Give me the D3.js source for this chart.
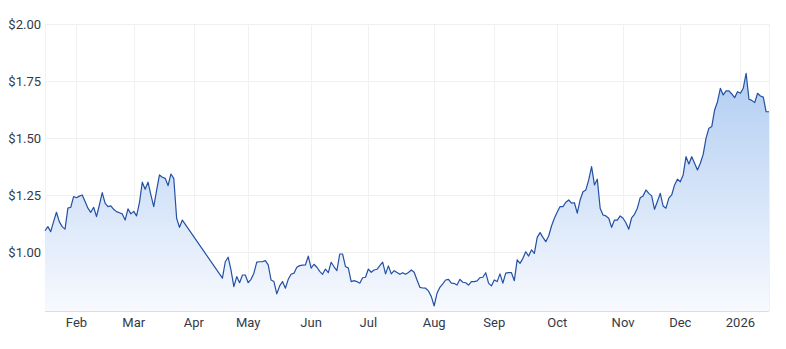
<!DOCTYPE html>
<html>
<head>
<meta charset="utf-8">
<script src="https://cdn.jsdelivr.net/npm/d3@7"></script>
<style>
    html, body { margin: 0; padding: 0; background: #fff; }
    svg { display: block; font-family: Roboto, "Liberation Sans", sans-serif; }
</style>
</head>
<body>
<svg role="chart" width="786" height="349"></svg>
<script>
// trading calendar (exchange days, holidays removed)
var firstDay = '2025-01-16',
    lastDay = '2026-01-16';
var holidays = ['2025-01-27', '2025-04-18', '2025-04-21', '2025-04-25',
    '2025-06-09', '2025-12-25', '2025-12-26', '2026-01-01'];

// closing price per trading day, null while the stock was halted
var prices = [
    1.093, 1.111, 1.089, 1.133, 1.174, 1.133, 1.111, 1.100, 1.192, 1.196, 1.243,
    1.238, 1.245, 1.250, 1.221, 1.192, 1.174, 1.196, 1.155, 1.206, 1.260,
    1.214, 1.199, 1.202, 1.187, 1.177, 1.172, 1.167, 1.140, 1.189, 1.167,
    1.178, 1.158, 1.216, 1.306, 1.275, 1.306, 1.250, 1.199, 1.270, 1.338,
    1.328, 1.323, 1.291, 1.342, 1.323, 1.148, 1.108, 1.140,
    null, null, null, null, null, null, null, null, null, null, null, null, null,
    0.885, 0.957, 0.977, 0.920, 0.848, 0.892, 0.865, 0.899, 0.899,
    0.865, 0.880, 0.907, 0.955, 0.957, 0.957, 0.962, 0.943, 0.877, 0.870,
    0.816, 0.851, 0.870, 0.841, 0.880, 0.902, 0.907, 0.933, 0.940, 0.942,
    0.943, 0.982, 0.929, 0.946, 0.933, 0.915, 0.902, 0.925, 0.909, 0.955,
    0.935, 0.918, 0.991, 0.991, 0.936, 0.929, 0.870, 0.874, 0.870, 0.863,
    0.887, 0.889, 0.925, 0.911, 0.921, 0.924, 0.940, 0.955, 0.904, 0.939,
    0.904, 0.918, 0.910, 0.902, 0.909, 0.902, 0.910, 0.921, 0.911, 0.877,
    0.845, 0.842, 0.841, 0.829, 0.804, 0.763, 0.819, 0.845, 0.860, 0.877,
    0.880, 0.863, 0.862, 0.855, 0.880, 0.867, 0.865, 0.855, 0.870, 0.870,
    0.873, 0.887, 0.889, 0.909, 0.863, 0.851, 0.877, 0.870, 0.904, 0.863,
    0.907, 0.909, 0.909, 0.874, 0.965, 0.950, 0.972, 1.001, 0.982, 1.009,
    0.994, 1.064, 1.085, 1.064, 1.045, 1.070, 1.114, 1.148, 1.175, 1.199,
    1.199, 1.218, 1.228, 1.214, 1.216, 1.170, 1.228, 1.264, 1.272, 1.316,
    1.374, 1.294, 1.319, 1.192, 1.162, 1.158, 1.148, 1.108, 1.140, 1.140,
    1.158, 1.148, 1.128, 1.100, 1.150, 1.165, 1.192, 1.238, 1.246, 1.272,
    1.257, 1.246, 1.187, 1.221, 1.257, 1.202, 1.192, 1.236, 1.250, 1.294,
    1.319, 1.308, 1.338, 1.418, 1.386, 1.418, 1.389, 1.360, 1.389, 1.428,
    1.499, 1.543, 1.550, 1.623, 1.659, 1.718, 1.689, 1.707, 1.707, 1.693,
    1.677, 1.703, 1.696, 1.718, 1.784, 1.670, 1.665, 1.655, 1.696, 1.684,
    1.679, 1.615, 1.615
];

var yTicks = [1.00, 1.25, 1.50, 1.75, 2.00];
var yMin = 0.741, yMax = 2.00;

// overall configuration
var width = 786, height = 349,
    margin = { top: 24, left: 45, right: 17, bottom: 38 };
var innerW = width - margin.left - margin.right,
    innerH = height - margin.top - margin.bottom;

var parse = d3.timeParse('%Y-%m-%d'),
    fmt = d3.timeFormat('%Y-%m-%d');

// build the list of trading days
var days = d3.timeDay.range(parse(firstDay), d3.timeDay.offset(parse(lastDay), 1))
    .filter(function (d) {
        var wd = d.getDay();
        return wd != 0 && wd != 6 && holidays.indexOf(fmt(d)) == -1;
    });

var series = [];
days.forEach(function (d, i) {
    if (prices[i] != null) {
        series.push({ i: i, date: d, value: prices[i] });
    }
});

// month ticks sit on the first trading day of each month
var monthTicks = [];
days.forEach(function (d, i) {
    if (i > 0 && d.getMonth() != days[i - 1].getMonth()) {
        monthTicks.push({ i: i, date: d });
    }
});

var x = d3.scaleLinear().domain([0, days.length - 1]).range([0, innerW]);
var y = d3.scaleLinear().domain([yMin, yMax]).range([innerH, 0]);

var svg = d3.select('[role="chart"]');

var defs = svg.append('defs');
var grad = defs.append('linearGradient')
    .attr('id', 'fill')
    .attr('gradientUnits', 'userSpaceOnUse')
    .attr('x1', 0).attr('y1', 0)
    .attr('x2', 0).attr('y2', innerH);
grad.append('stop').attr('offset', 0).attr('stop-color', 'rgb(164,197,240)');
grad.append('stop').attr('offset', 1).attr('stop-color', 'rgb(247,249,254)');

var g = svg.append('g')
    .attr('transform', 'translate(' + margin.left + ',' + margin.top + ')');

// horizontal grid
g.selectAll('line.hgrid')
    .data(yTicks)
    .enter()
    .append('line')
    .attr('class', 'hgrid')
    .attr('x1', 0).attr('x2', innerW)
    .attr('y1', function (d) { return Math.round(y(d)) + 0.5; })
    .attr('y2', function (d) { return Math.round(y(d)) + 0.5; })
    .attr('stroke', '#efefef');

// vertical grid (month ticks + plot edges)
var vLines = [0, days.length - 1].concat(monthTicks.map(function (t) { return t.i; }));
g.selectAll('line.vgrid')
    .data(vLines)
    .enter()
    .append('line')
    .attr('class', 'vgrid')
    .attr('y1', 0).attr('y2', innerH)
    .attr('x1', function (d) { return Math.round(x(d)) + 0.5; })
    .attr('x2', function (d) { return Math.round(x(d)) + 0.5; })
    .attr('stroke', '#f1f1f1');

// area + line
var area = d3.area()
    .x(function (d) { return x(d.i); })
    .y0(innerH)
    .y1(function (d) { return y(d.value); });

var line = d3.line()
    .x(function (d) { return x(d.i); })
    .y(function (d) { return y(d.value); });

g.append('path')
    .datum(series)
    .attr('d', area)
    .attr('fill', 'url(#fill)');

g.append('path')
    .datum(series)
    .attr('d', line)
    .attr('fill', 'none')
    .attr('stroke', '#2350a4')
    .attr('stroke-width', 1.2)
    .attr('stroke-linejoin', 'round');

// bottom axis line
g.append('line')
    .attr('x1', 0).attr('x2', innerW)
    .attr('y1', innerH + 0.5).attr('y2', innerH + 0.5)
    .attr('stroke', '#dcdcdc');

// y labels
g.selectAll('text.ylab')
    .data(yTicks)
    .enter()
    .append('text')
    .attr('class', 'ylab')
    .attr('x', -4)
    .attr('y', function (d) { return y(d); })
    .attr('dy', '0.35em')
    .attr('text-anchor', 'end')
    .attr('font-size', 13)
    .attr('fill', '#333a47')
    .text(function (d) { return '$' + d.toFixed(2); });

// x labels
var monthFmt = d3.timeFormat('%b');
g.selectAll('text.xlab')
    .data(monthTicks)
    .enter()
    .append('text')
    .attr('class', 'xlab')
    .attr('x', function (d) { return x(d.i); })
    .attr('y', innerH + 16)
    .attr('text-anchor', 'middle')
    .attr('font-size', 13)
    .attr('fill', '#333a47')
    .text(function (d) {
        return d.date.getMonth() == 0 ? d.date.getFullYear() : monthFmt(d.date);
    });
</script>
</body>
</html>
